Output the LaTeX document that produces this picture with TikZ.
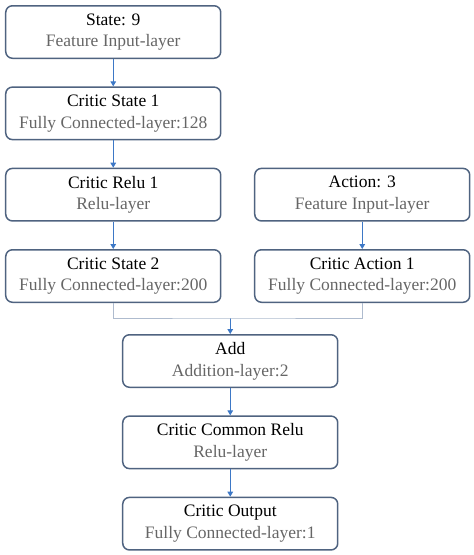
\documentclass[tikz,border=0pt]{standalone}
\usepackage{fontspec}
\setmainfont{Liberation Serif}
\usetikzlibrary{positioning,arrows.meta}
\definecolor{boxline}{HTML}{4F6380}
\definecolor{arrowblue}{HTML}{3D78C6}
\definecolor{joinline}{HTML}{AEBBCE}
\definecolor{subgray}{HTML}{666666}

\begin{document}
\begin{tikzpicture}[->,>={Triangle[length=3pt,width=3.4pt]},node distance=16.4pt and 19.5pt,
  layer node/.style={draw=boxline,line width=0.9pt,rounded corners=4pt,minimum width=129pt,minimum height=31.5pt,inner sep=0pt,align=center,font=\rmfamily\fontsize{10.5}{13}\selectfont},
  link/.style={arrowblue,line width=0.6pt}]
            \node[layer node] (state) {State: 9\\\textcolor{subgray}{Feature Input-layer}};
            \node[layer node] (state1) [below=of state] {Critic State 1\\\textcolor{subgray}{Fully Connected-layer:128}};
            \node[layer node] (relu1) [below=of state1] {Critic Relu 1\\\textcolor{subgray}{Relu-layer}};
            \node[layer node] (state2) [below=of relu1] {Critic State 2\\\textcolor{subgray}{Fully Connected-layer:200}};
            \node[layer node] (action) [right=of relu1] {Action: 3\\\textcolor{subgray}{Feature Input-layer}};
            \node[layer node] (action1) [below=of action] {Critic Action 1\\\textcolor{subgray}{Fully Connected-layer:200}};
            \coordinate[below right=9pt and 70.2pt of state2.south] (merge);
            \node[layer node] (add) [below=9.6pt of merge] {Add\\\textcolor{subgray}{Addition-layer:2}};
            \node[layer node] (common) [below=of add] {Critic Common Relu\\\textcolor{subgray}{Relu-layer}};
            \node[layer node] (output) [below=of common] {Critic Output\\\textcolor{subgray}{Fully Connected-layer:1}};

            \useasboundingbox ([shift={(-3pt,3pt)}]state.north west) rectangle ([shift={(281.4pt,-330pt)}]state.north west);

            \path[link]
                (state) edge (state1)
                (state1) edge (relu1)
                (relu1) edge (state2)
                (action) edge (action1)
                (merge) edge (add)
                (add) edge (common)
                (common) edge (output)
                ;
            % join of the two branches
            \draw[-,joinline,line width=0.6pt] (state2.south) |- (merge) -| (action1.south);
        \end{tikzpicture}
\end{document}
